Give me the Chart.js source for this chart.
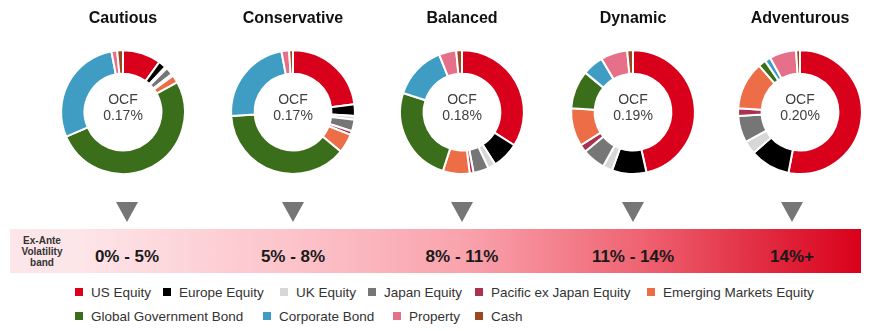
<!DOCTYPE html>
<html>
<head>
<meta charset="utf-8">
<script src="https://cdn.jsdelivr.net/npm/chart.js@4.4.1/dist/chart.umd.min.js"></script>
<style>
    body { margin: 0; background: #fff; font-family: "Liberation Sans", Arial, sans-serif; }
    #wrap { position: relative; width: 883px; height: 331px; overflow: hidden; }
    .pie { position: absolute; top: 0; }
    .tri { position: absolute; top: 202px; width: 0; height: 0;
           border-left: 11px solid transparent; border-right: 11px solid transparent;
           border-top: 20px solid #767676; }
    #band { position: absolute; left: 74px; top: 229px; width: 787px; height: 44px;
            background: linear-gradient(to right, #fde6e9 0%, #fcc3ca 28%, #f9a2ac 50%, #ef6372 72%, #e02a3f 88%, #d9001b 100%); }
    #bandHead { position: absolute; left: 10px; top: 229px; width: 64px; height: 44px;
                background: #fde6e9; color: #333; font-weight: bold; font-size: 10px;
                line-height: 11px; text-align: center; display: flex; align-items: center; justify-content: center; }
    .bandLbl { position: absolute; top: 247px; font-size: 17px; font-weight: bold; color: #1a1a1a;
               transform: translateX(-50%); white-space: nowrap; }
    .leg { position: absolute; font-size: 13.5px; color: #333; white-space: nowrap; line-height: 16px; }
    .leg i { display: inline-block; width: 8px; height: 8px; margin-right: 8px; vertical-align: 1px; }
</style>
</head>
<body>
<div id="wrap">
    <div id="bandHead">Ex-Ante<br>Volatility<br>band</div>
    <div id="band"></div>
</div>
<script>
// asset classes, in the order they go round each ring
const assetClasses = ['US Equity', 'Europe Equity', 'UK Equity', 'Japan Equity', 'Pacific ex Japan Equity',
    'Emerging Markets Equity', 'Global Government Bond', 'Corporate Bond', 'Property', 'Cash'];
const profiles = ['Cautious', 'Conservative', 'Balanced', 'Dynamic', 'Adventurous'];
const ocfValues = ['0.17%', '0.17%', '0.18%', '0.19%', '0.20%'];
const volatilityBands = ['0% - 5%', '5% - 8%', '8% - 11%', '11% - 14%', '14%+'];

// allocations in %
const cautious     = [10, 2, 0.5, 2, 0.5, 2, 51.5, 28.5, 1.5, 1.5];
const conservative = [23, 3, 1, 3, 1, 5, 38, 23, 2, 1];
const balanced     = [34, 7, 2, 4, 1, 7, 25, 14, 4.5, 1.5];
const dynamic      = [46.5, 9, 2.5, 6, 2, 10, 10, 5.5, 7, 1.5];
const adventurous  = [53, 10.5, 3.5, 7, 2, 12.5, 2, 1.5, 7, 1];
const allocations = [cautious, conservative, balanced, dynamic, adventurous];

const colours = ['#d9001b', '#000000', '#d7d7d7', '#767676', '#a83250',
    '#ec6d46', '#3b6e1a', '#3f9cc2', '#e6708a', '#9b4720'];

// layout
const centresX = [123, 293, 462, 633, 800];
const bandX = [127, 293, 462, 633, 792];
const legendRows = [
    [[75, 0], [163, 1], [280, 2], [368, 3], [475, 4], [647, 5]],
    [[75, 6], [263, 7], [393, 8], [475, 9]]
];

const wrap = document.getElementById('wrap');

// writes "OCF" and the charge in the hole of the ring
const centreText = {
    id: 'centreText',
    afterDraw(chart, args, opts) {
        const arc = chart.getDatasetMeta(0).data[0];
        if (!arc) return;
        const c = chart.ctx;
        c.save();
        c.fillStyle = '#404040';
        c.font = '14px "Liberation Sans", Arial, sans-serif';
        c.textAlign = 'center';
        c.textBaseline = 'middle';
        c.fillText('OCF', arc.x, arc.y - 12);
        c.fillText(opts.ocf, arc.x, arc.y + 4);
        c.restore();
    }
};

profiles.forEach((name, i) => {
    const canvas = document.createElement('canvas');
    canvas.className = 'pie';
    canvas.width = 150;
    canvas.height = 175;
    canvas.style.left = (centresX[i] - 75) + 'px';
    wrap.appendChild(canvas);

    new Chart(canvas.getContext('2d'), {
        type: 'doughnut',
        data: {
            labels: assetClasses,
            datasets: [{
                data: allocations[i],
                backgroundColor: colours,
                borderColor: '#ffffff',
                borderWidth: 2,
                hoverOffset: 0
            }]
        },
        options: {
            responsive: false,
            animation: false,
            cutout: '62%',
            events: [],
            plugins: {
                legend: { display: false },
                tooltip: { enabled: false },
                title: {
                    display: true,
                    text: name,
                    color: '#111',
                    font: { family: '"Liberation Sans", Arial, sans-serif', size: 16, weight: 'bold', lineHeight: 1.2 },
                    padding: { top: 9, bottom: 21 }
                },
                centreText: { ocf: ocfValues[i] }
            }
        },
        plugins: [centreText]
    });

    const tri = document.createElement('div');
    tri.className = 'tri';
    tri.style.left = (bandX[i] - 11) + 'px';
    wrap.appendChild(tri);

    const lbl = document.createElement('div');
    lbl.className = 'bandLbl';
    lbl.style.left = bandX[i] + 'px';
    lbl.textContent = volatilityBands[i];
    wrap.appendChild(lbl);
});

// legend under the band
legendRows.forEach((row, r) => {
    row.forEach(([x, k]) => {
        const item = document.createElement('div');
        item.className = 'leg';
        item.style.left = x + 'px';
        item.style.top = (285 + r * 24) + 'px';
        item.innerHTML = '<i style="background:' + colours[k] + '"></i>' + assetClasses[k];
        wrap.appendChild(item);
    });
});
</script>
</body>
</html>
